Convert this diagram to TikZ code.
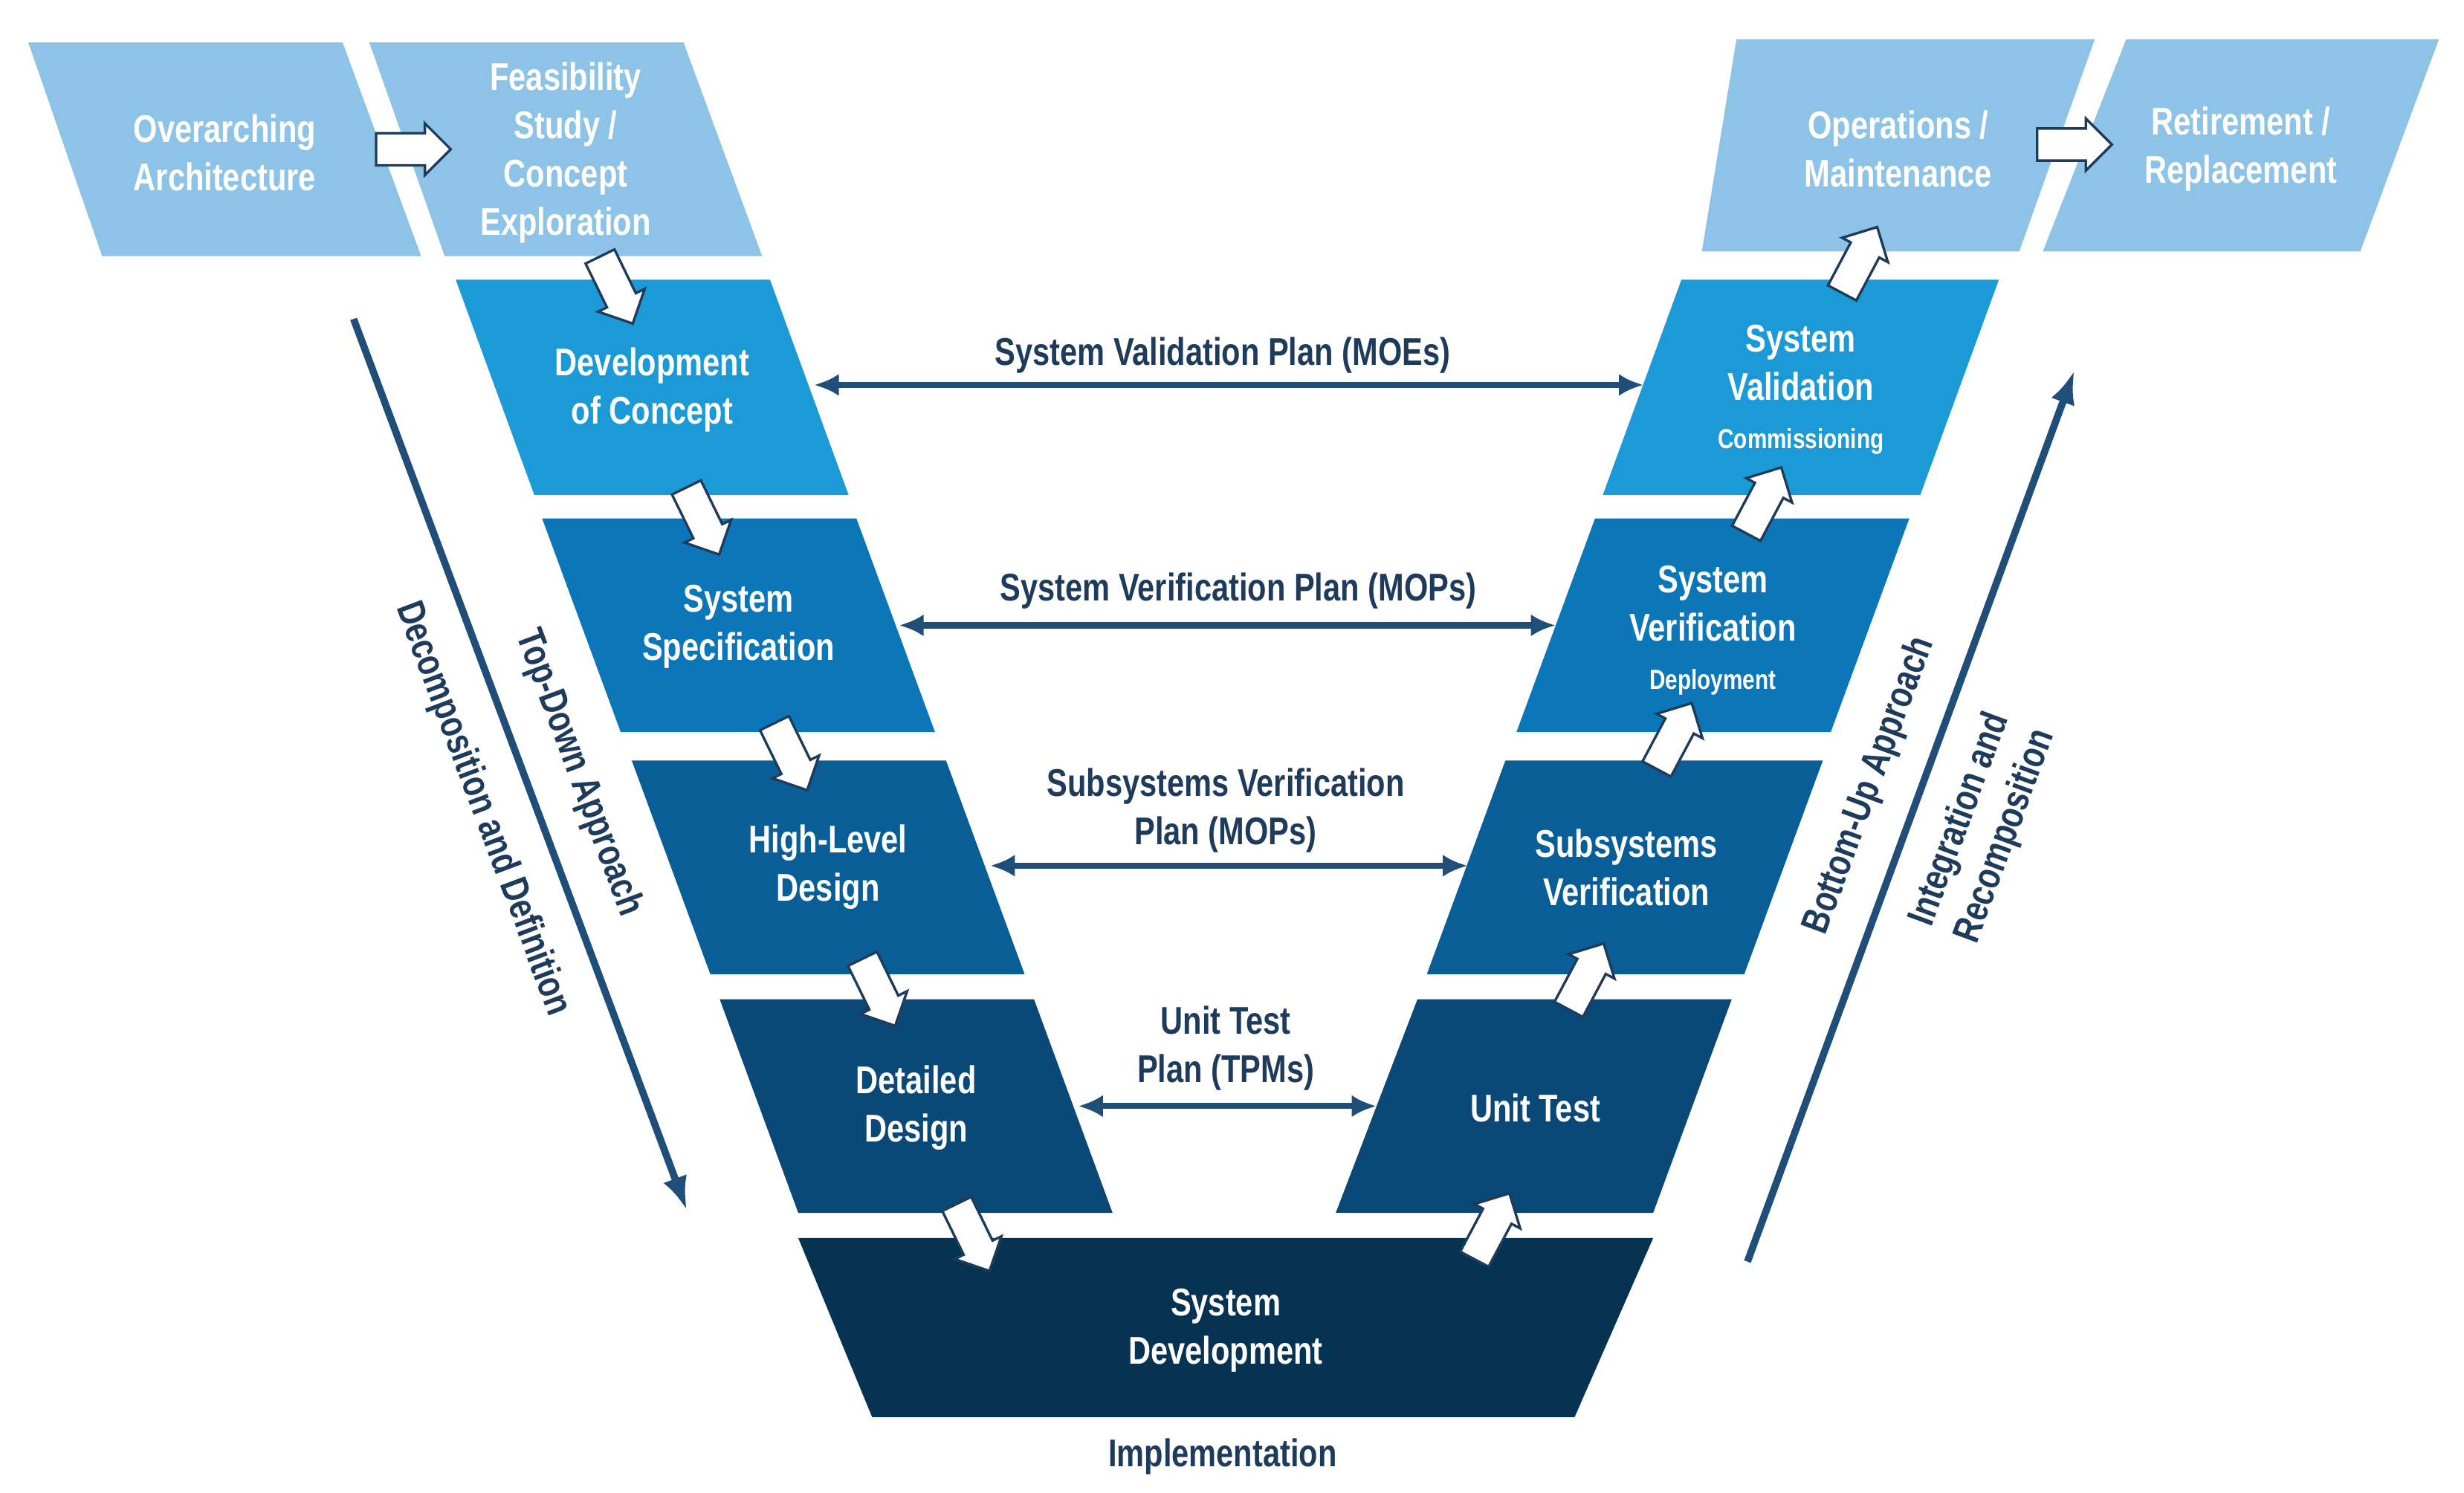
\documentclass[tikz,border=0pt]{standalone}
\usepackage{fontspec}
\setmainfont{Liberation Sans}[FakeStretch=0.8]
\usetikzlibrary{shapes.arrows,arrows.meta}
\definecolor{cL}{HTML}{8DC3E6}
\definecolor{c1}{HTML}{1B9AD7}
\definecolor{c2}{HTML}{0B76B8}
\definecolor{c3}{HTML}{0A5E98}
\definecolor{c4}{HTML}{0A4877}
\definecolor{c5}{HTML}{073353}
\definecolor{ink}{HTML}{1F3B5C}
\definecolor{arr}{HTML}{1F4E79}
\tikzset{
 txt/.style={text=white,align=center,font=\fontsize{14}{17.5}\selectfont\bfseries},
 lbl/.style={text=ink,align=center,font=\fontsize{14}{17.5}\selectfont\bfseries},
 link/.style={arr,line width=2.2pt,{Latex[length=9pt,width=8pt]}-{Latex[length=9pt,width=8pt]}},
 long/.style={arr,line width=2.6pt,-{Latex[length=12pt,width=9pt]}},
 barrow/.style={shape=single arrow,draw=ink,fill=white,line width=0.9pt,minimum height=0.95cm,minimum width=0.66cm,single arrow head extend=0.1cm,inner xsep=0pt,inner ysep=4.2pt,single arrow tip angle=90},
}
\begin{document}
\begin{tikzpicture}[x=0.02cm,y=-0.02cm]
\useasboundingbox (0,0) rectangle (1568,950);
% top boxes
\fill[cL] (18,27)--(218,27)--(268,163)--(65,163)--cycle;
\node[txt] (oa) at (143,97) {Overarching\\Architecture};
\fill[cL] (235,27)--(435,27)--(485,163)--(283,163)--cycle;
\node[txt] (fs) at (360,97) {Feasibility\\Study /\\Concept\\Exploration};
\fill[cL] (1105,25)--(1333,25)--(1285,160)--(1083,160)--cycle;
\node[txt] (om) at (1208,95) {Operations /\\Maintenance};
\fill[cL] (1353,25)--(1552,25)--(1502,160)--(1300,160)--cycle;
\node[txt] (rr) at (1426,95) {Retirement /\\Replacement};
% left V
\fill[c1] (290,178)--(490,178)--(540,315)--(340,315)--cycle;
\node[txt] (dc) at (415,248) {Development\\of Concept};
\fill[c2] (345,330)--(545,330)--(595,466)--(395,466)--cycle;
\node[txt] (ss) at (470,399) {System\\Specification};
\fill[c3] (402,484)--(602,484)--(652,620)--(452,620)--cycle;
\node[txt] (hl) at (527,552) {High-Level\\Design};
\fill[c4] (458,636)--(658,636)--(708,772)--(508,772)--cycle;
\node[txt] (dd) at (583,705) {Detailed\\Design};
\fill[c5] (508,788)--(1052,788)--(1002,902)--(555,902)--cycle;
\node[txt] (sd) at (780,847) {System\\Development};
% right V
\fill[c1] (1070,178)--(1272,178)--(1222,315)--(1020,315)--cycle;
\node[txt] (sv) at (1146,248) {System\\Validation\\{\fontsize{10}{12}\selectfont Commissioning}};
\fill[c2] (1015,330)--(1215,330)--(1165,466)--(965,466)--cycle;
\node[txt] (sy) at (1090,401) {System\\Verification\\{\fontsize{10}{12}\selectfont Deployment}};
\fill[c3] (958,484)--(1160,484)--(1110,620)--(908,620)--cycle;
\node[txt] (su) at (1035,552) {Subsystems\\Verification};
\fill[c4] (902,636)--(1102,636)--(1052,772)--(850,772)--cycle;
\node[txt] (ut) at (977,705) {Unit Test};
% horizontal links
\coordinate (a1) at (518,245); \coordinate (b1) at (1046,245);
\coordinate (a2) at (572,398); \coordinate (b2) at (990,398);
\coordinate (a3) at (630,551); \coordinate (b3) at (934,551);
\coordinate (a4) at (686,704); \coordinate (b4) at (876,704);
\draw[link] (a1)--(b1); \draw[link] (a2)--(b2);
\draw[link] (a3)--(b3); \draw[link] (a4)--(b4);
\node[lbl] (l1) at (778,226) {System Validation Plan (MOEs)};
\node[lbl] (l2) at (788,376) {System Verification Plan (MOPs)};
\node[lbl] (l3) at (780,516) {Subsystems Verification\\Plan (MOPs)};
\node[lbl] (l4) at (780,667) {Unit Test\\Plan (TPMs)};
\node[lbl] (im) at (778,927) {Implementation};
% long arrows
\coordinate (p1) at (225,203); \coordinate (p2) at (437,770);
\coordinate (q1) at (1112,803); \coordinate (q2) at (1320,236);
\draw[long] (p1)--(p2); \draw[long] (q1)--(q2);
\node[lbl,rotate=-69.5] (td) at (368,492) {Top-Down Approach};
\node[lbl,rotate=-69.5] (de) at (307,515) {Decomposition and Definition};
\node[lbl,rotate=69.8] (bu) at (1190,500) {Bottom-Up Approach};
\node[lbl,rotate=69.8] (ir) at (1262,527) {Integration and\\Recomposition};
% block arrows
\node[barrow] (ba0) at (258,95) {};
\node[barrow] (ba9) at (1315,92) {};
\node[barrow,rotate=-64] (ba1) at (390,180) {};
\node[barrow,rotate=-64] (ba2) at (445,327) {};
\node[barrow,rotate=-64] (ba3) at (501,477) {};
\node[barrow,rotate=-64] (ba4) at (557,627) {};
\node[barrow,rotate=-64] (ba5) at (617,783) {};
\node[barrow,rotate=62] (bb1) at (947,785) {};
\node[barrow,rotate=62] (bb2) at (1007,626) {};
\node[barrow,rotate=62] (bb3) at (1063,473) {};
\node[barrow,rotate=62] (bb4) at (1120,323) {};
\node[barrow,rotate=62] (bb5) at (1181,170) {};
\end{tikzpicture}
\end{document}
